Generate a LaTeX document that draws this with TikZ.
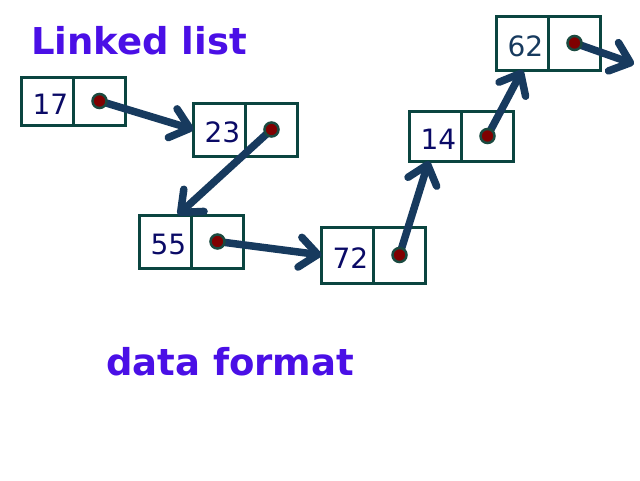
\documentclass[tikz,border=0pt]{standalone}
\usepackage{fontspec}
\setmainfont{DejaVu Sans}
\usetikzlibrary{arrows.meta,positioning}

\definecolor{boxline}{HTML}{0B4540}
\definecolor{linkblue}{HTML}{173A5E}
\definecolor{numblue}{HTML}{0A0A66}
\definecolor{titleblue}{HTML}{4A0FE6}
\definecolor{dotred}{HTML}{800000}
\definecolor{dotline}{HTML}{1A4A40}

\tikzset{
  cell/.style={draw=boxline, line width=3pt, rectangle, outer sep=0pt,
    inner sep=0pt, minimum width=52pt},
  link/.style={draw=linkblue, line width=7.5pt, line cap=round,
    -{Straight Barb[length=18pt,width=30pt,round]}},
  dot/.style={circle, fill=dotred, draw=dotline, line width=2.5pt,
    inner sep=0pt, minimum size=14pt},
  title/.style={text=titleblue, font=\bfseries\fontsize{37}{42}\selectfont,
    inner sep=0pt, anchor=base west}
}

\begin{document}
\begin{tikzpicture}[x=1pt,y=-1pt]
  \useasboundingbox (0,0) rectangle (640,480);

  \node[title] (head) at (31,54) {Linked list};
  \node[title] (foot) at (106,375) {data format};

  % list nodes: value / x / y / height / text colour
  \foreach \val/\x/\y/\h/\col in {17/47.5/101/48/numblue, 23/219.5/129.5/53/numblue,
                                  55/165.5/241.5/53/numblue, 72/347.5/255/56/numblue,
                                  14/435.5/136/50/numblue, 62/522.5/43/54/linkblue}
  {
    \node[cell, minimum height=\h, text=\col, font=\fontsize{28}{32}\selectfont,
      text height=26pt, text depth=0pt]
      (d\val) at (\x,\y) {\hspace*{6pt}\val};
    \node[cell, minimum height=\h, right=0pt of d\val] (p\val) {};
  }

  \coordinate (tail) at (634,64);

  \draw[link] (p17.center) -- (d23.west);
  \draw[link] (p23.center) -- (d55.65);
  \draw[link] (p55.center) -- (d72.west);
  \draw[link] (p72.center) -- (d14.255);
  \draw[link] (p14.center) -- (d62.south);
  \draw[link] (p62.center) -- (tail);

  \foreach \val in {17,23,55,72,14,62}
    \node[dot] (c\val) at (p\val.center) {};
\end{tikzpicture}
\end{document}
